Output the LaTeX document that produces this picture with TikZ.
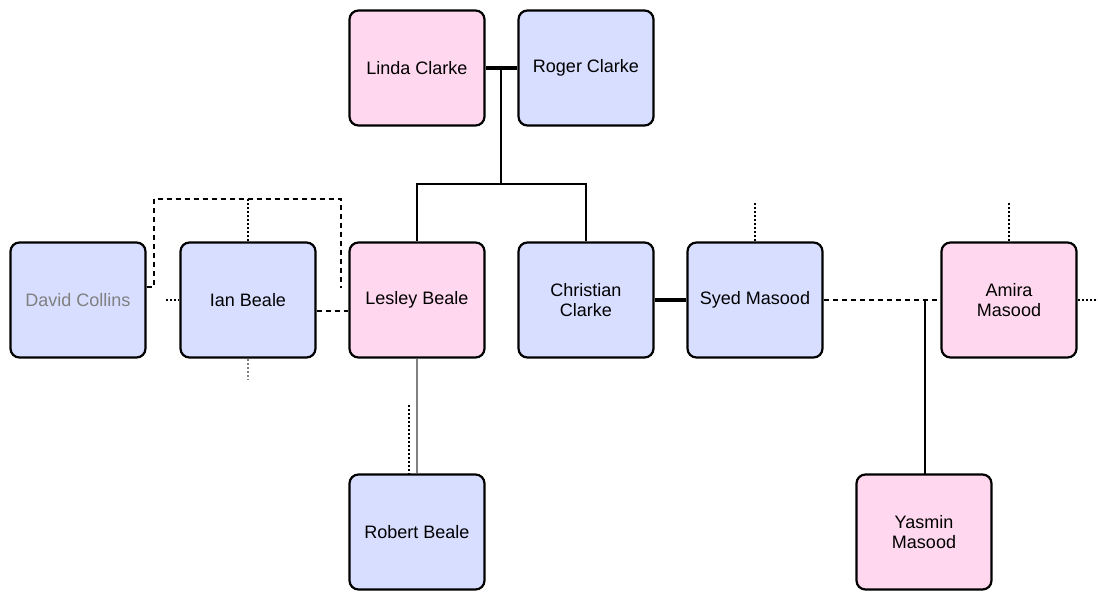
\documentclass[tikz,border=0pt]{standalone}
\usepackage{fontspec}
\setmainfont{Liberation Sans}
\definecolor{mblue}{RGB}{216,222,255}
\definecolor{fpink}{RGB}{255,215,238}
\begin{document}
\begin{tikzpicture}[x=1pt,y=-1pt,
 p/.style={draw=black,line width=2.2pt,rounded corners=9pt,minimum width=135pt,minimum height=115pt,align=center,font=\fontsize{18}{20}\selectfont,inner sep=2pt},
 m/.style={p,fill=mblue},
 f/.style={p,fill=fpink},
 dsh/.style={line width=2pt,dash pattern=on 5pt off 4pt},
 dot/.style={line width=2pt,dash pattern=on 2pt off 2pt}]
\useasboundingbox (0,0) rectangle (1098,595);
\node[f] (linda) at (417,68) {Linda Clarke};
\node[m] (roger) at (586,68) {Roger Clarke};
\node[m,text=gray] (david) at (78,300) {David Collins};
\node[m] (ian) at (248,300) {Ian Beale};
\node[f] (lesley) at (417,300) {Lesley Beale};
\node[m] (christian) at (586,300) {Christian\\Clarke};
\node[m] (syed) at (755,300) {Syed Masood};
\node[f] (amira) at (1009,300) {Amira\\Masood};
\node[m] (robert) at (417,532) {Robert Beale};
\node[f] (yasmin) at (924,532) {Yasmin\\Masood};
\coordinate (lr) at (501,68);
\coordinate (fam) at (501,184);
\draw[line width=4pt] (linda) -- (roger);
\draw[line width=2pt] (lr) -- (fam);
\draw[line width=2pt] (lesley.north) |- (fam) -| (christian.north);
\draw[line width=4pt] (christian) -- (syed);
\draw[dsh] (david.east |- 0,287) -- ++(7,0) |- (341,199) -- (341,288);
\coordinate (it) at (248,199);
\draw[dot] (ian.north) -- (it);
\coordinate (ib) at (248,380);
\draw[dot,gray] (ian.south) -- (ib);
\draw[dot] ([xshift=-13pt]ian.west) -- (ian.west);
\draw[dsh] (ian.east |- 0,311) -- (lesley.west |- 0,311);
\draw[line width=2pt,gray] (lesley.south) -- (robert.north);
\draw[dot] (409,405) -- (409,474);
\coordinate (st) at (755,202);
\draw[dot] (syed.north) -- (st);
\coordinate (at) at (1009,202);
\draw[dot] (amira.north) -- (at);
\coordinate (ar) at (1098,300);
\draw[dot] (amira.east) -- (ar);
\draw[dsh] (syed.east) -- (amira.west);
\draw[line width=2pt] (925,300) -- (925,474);
\end{tikzpicture}
\end{document}
